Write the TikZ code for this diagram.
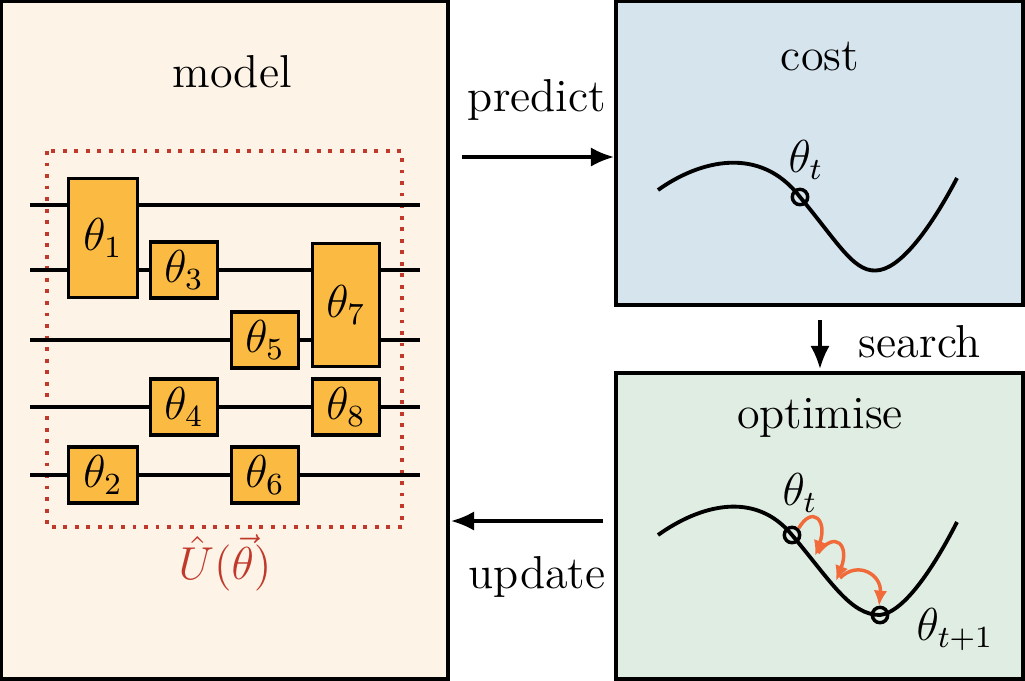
\documentclass[tikz,border=0pt]{standalone}
\usepackage{amsmath,amssymb}
\usetikzlibrary{arrows.meta}
\definecolor{modelbg}{HTML}{FDF3E6}
\definecolor{costbg}{HTML}{D6E4EE}
\definecolor{optbg}{HTML}{E0EDE3}
\definecolor{gatefill}{HTML}{FBBA42}
\definecolor{circred}{HTML}{C0392B}
\definecolor{hopred}{HTML}{F06A3A}
\tikzset{
  panel/.style={draw=black, line width=1pt},
  gate/.style={draw=black, fill=gatefill, line width=0.9pt, inner sep=0pt},
  wire/.style={line width=0.8pt},
  flow/.style={-{Latex[length=6pt,width=5pt]}, line width=0.8pt},
  hop/.style={-{Latex[length=4pt,width=3.5pt]}, hopred, line width=0.9pt},
  dot/.style={circle, draw=black, fill=none, line width=0.9pt, minimum size=4pt, inner sep=0pt},
}
\begin{document}
\begin{tikzpicture}[x=0.26pt, y=-0.26pt, font=\large]
    \useasboundingbox (0,0) rectangle (1025,680);

    % model panel
    \draw[panel, fill=modelbg] (1,1) rectangle (448,679);
    \node (model) at (232,72) {model};
    \draw[circred, dotted, line width=1pt] (47,151) rectangle (402,527);
    \foreach \y in {205,270,340,407,475}
        \draw[wire] (30,\y) -- (420,\y);
    \node[gate, minimum width=18pt, minimum height=31pt] (g1) at (103,238) {$\theta_1$};
    \node[gate, minimum width=17.5pt, minimum height=14.5pt] (g3) at (184,270) {$\theta_3$};
    \node[gate, minimum width=17.5pt, minimum height=14.5pt] (g5) at (265,340) {$\theta_5$};
    \node[gate, minimum width=17.5pt, minimum height=32pt] (g7) at (346,305) {$\theta_7$};
    \node[gate, minimum width=17.5pt, minimum height=14.5pt] (g4) at (184,407) {$\theta_4$};
    \node[gate, minimum width=17.5pt, minimum height=14.5pt] (g8) at (346,407) {$\theta_8$};
    \node[gate, minimum width=18pt, minimum height=14.5pt] (g2) at (103,475) {$\theta_2$};
    \node[gate, minimum width=17.5pt, minimum height=14.5pt] (g6) at (265,475) {$\theta_6$};
    \node[circred] (U) at (225,563) {$\hat{U}(\vec{\theta})$};

    % cost panel
    \draw[panel, fill=costbg] (616,1) rectangle (1023,305);
    \node (cost) at (820,57) {cost};
    \draw[line width=1pt] (658,190) .. controls (700,160) and (760,145) .. (800,197)
        .. controls (840,245) and (855,275) .. (880,270)
        .. controls (905,265) and (935,220) .. (957,178);
    \node[dot] (ct) at (800,197) {};
    \node (ctl) at (806,160) {$\theta_t$};

    % optimise panel
    \draw[panel, fill=optbg] (616,373) rectangle (1023,679);
    \node (opt) at (820,418) {optimise};
    \draw[line width=1pt] (658,535) .. controls (700,505) and (755,490) .. (792,535)
        .. controls (830,580) and (850,615) .. (880,615)
        .. controls (905,612) and (935,565) .. (957,522);
    \node[dot] (ot) at (792,535) {};
    \node[dot] (ot1) at (880,615) {};
    \node (otl) at (800,493) {$\theta_t$};
    \node (ot1l) at (955,630) {$\theta_{t+1}$};
    \coordinate (h1) at (815,556);
    \coordinate (h2) at (836,581);
    \coordinate (h3) at (879,606);
    \draw[hop] (ot.north east) .. controls (812,505) and (828,520) .. (h1);
    \draw[hop] (h1) ++(3,-3) .. controls (835,530) and (850,545) .. (h2);
    \draw[hop] (h2) ++(4,-3) .. controls (858,560) and (882,575) .. (h3);

    % arrows between panels
    \coordinate (pa) at (462,157);
    \coordinate (pb) at (614,157);
    \draw[flow] (pa) -- (pb);
    \node (predict) at (537,100) {predict};
    \coordinate (sa) at (820,320);
    \coordinate (sb) at (820,369);
    \draw[flow] (sa) -- (sb);
    \node (search) at (920,342) {search};
    \coordinate (ua) at (603,521);
    \coordinate (ub) at (451,521);
    \draw[flow] (ua) -- (ub);
    \node (update) at (537,577) {update};
\end{tikzpicture}
\end{document}
